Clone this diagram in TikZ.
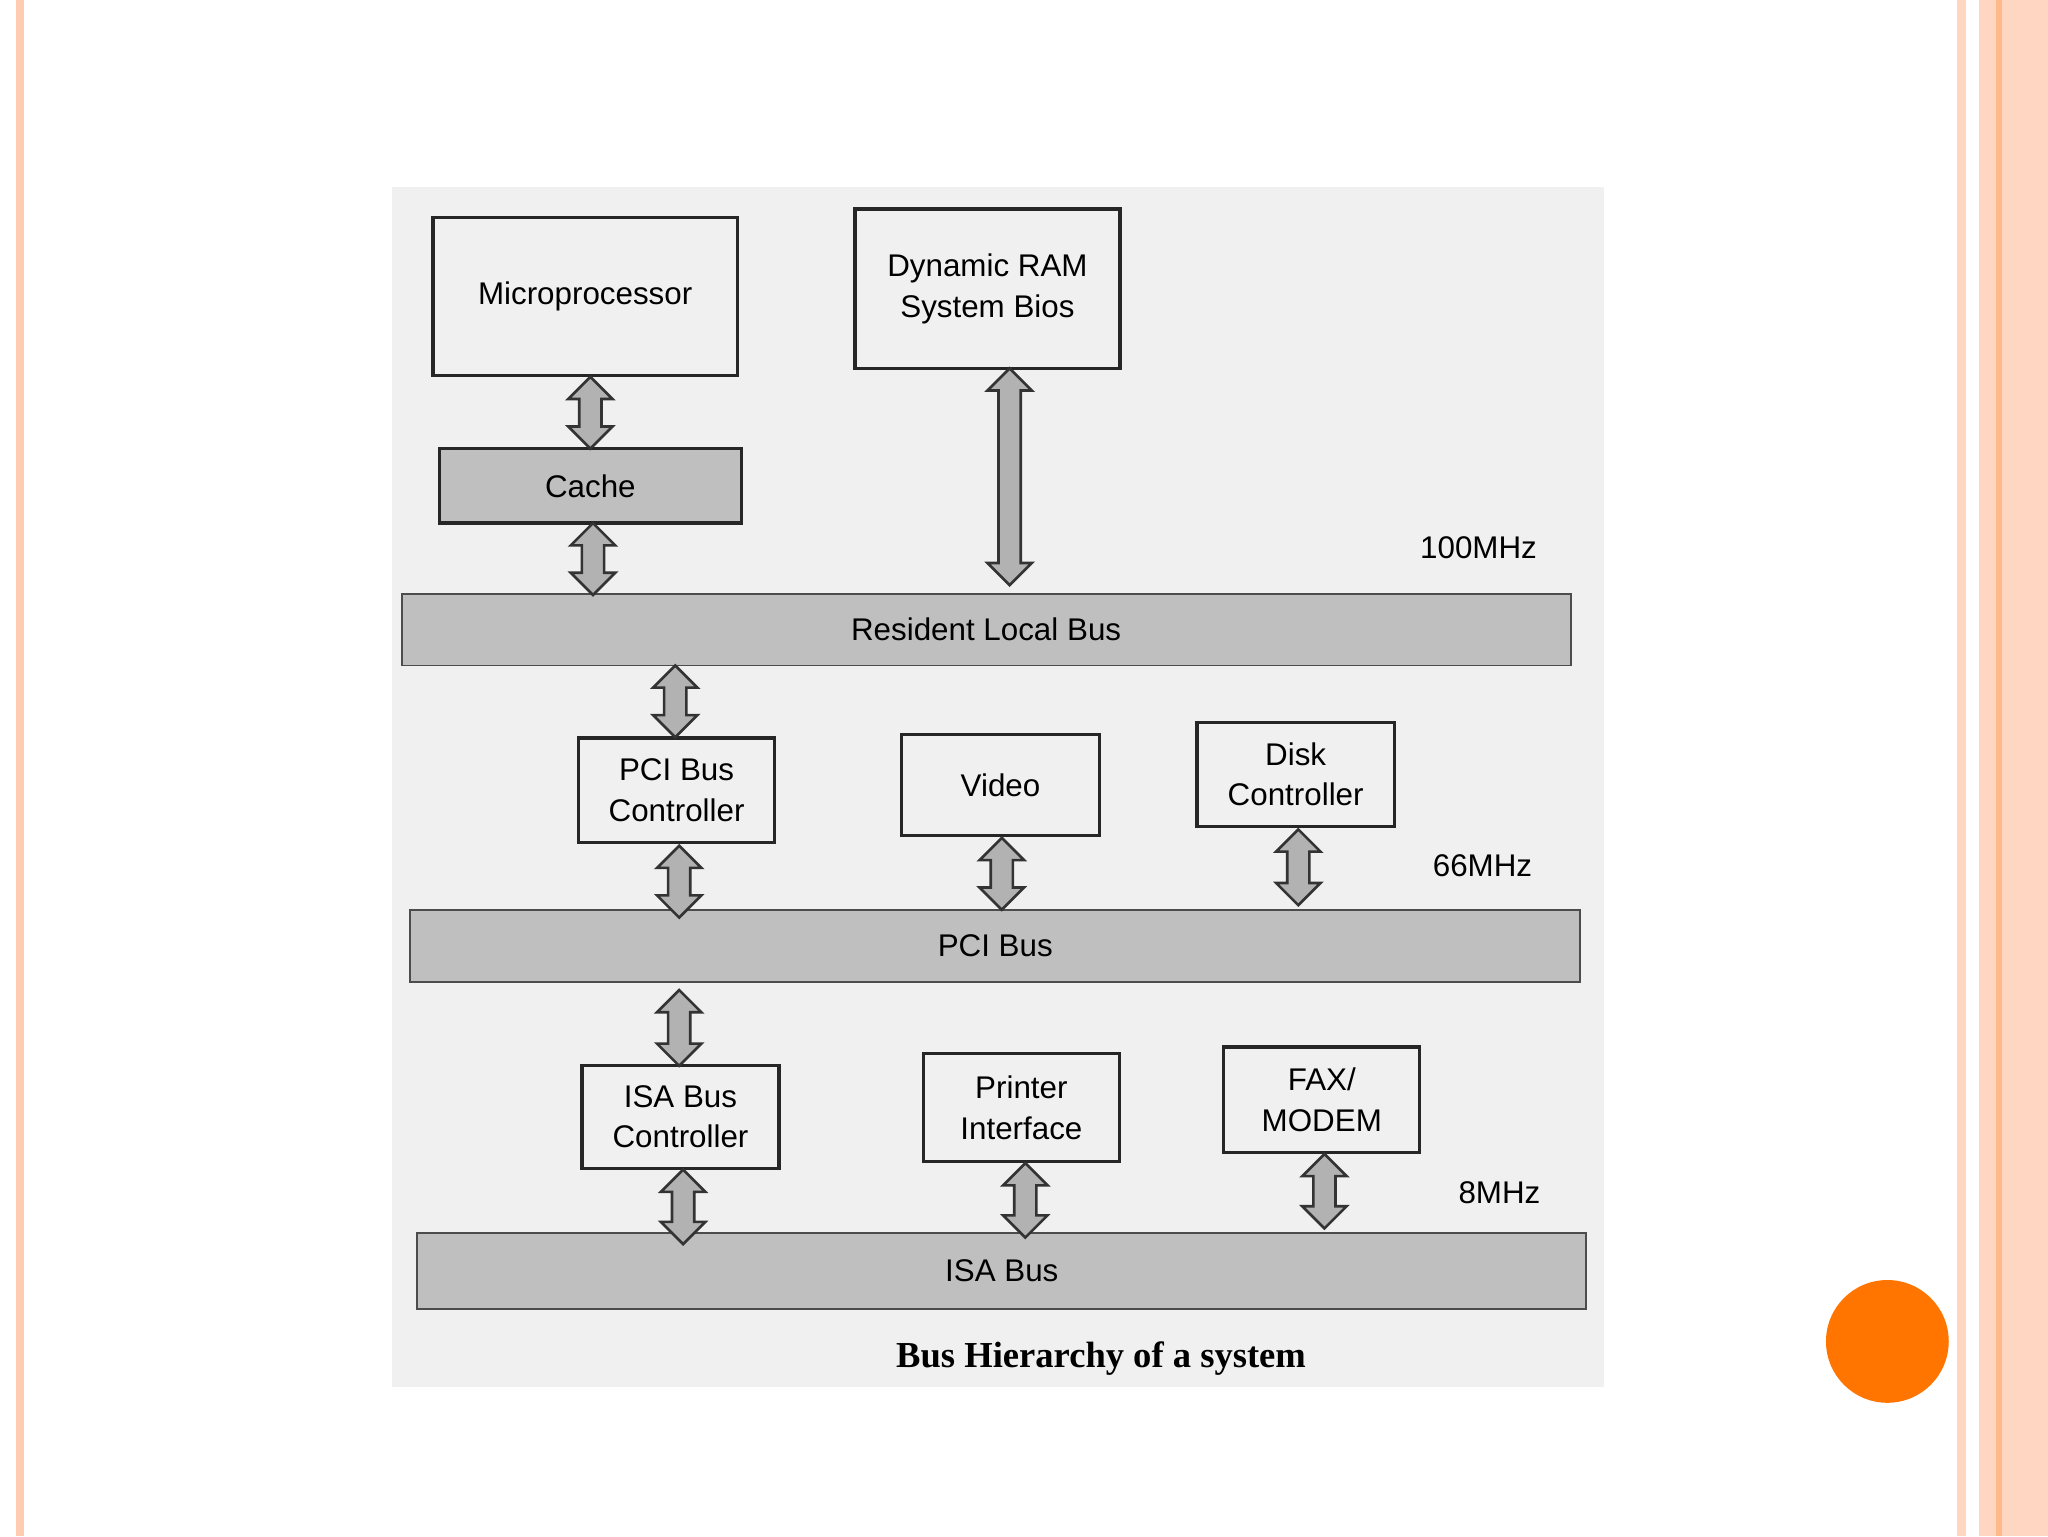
\documentclass[tikz,border=0pt]{standalone}
\usepackage{fontspec}
\setmainfont{Liberation Sans}
\newfontfamily\capfont{Liberation Serif}
\usetikzlibrary{shapes.arrows}
\begin{document}
\begin{tikzpicture}[x=1pt,y=-1pt,
 box/.style={draw=black!85,line width=2.5pt,inner sep=0pt,align=center,font=\fontsize{24}{31}\selectfont},
 bus/.style={draw=black!70,line width=1.5pt,fill=black!25,inner sep=0pt,font=\fontsize{24}{30}\selectfont},
 dbl/.style={double arrow,draw=black!80,line width=2pt,fill=black!30,rotate=90,minimum width=34pt,double arrow head extend=6pt,inner sep=5pt,double arrow head indent=0pt},
 lab/.style={font=\fontsize{24}{30}\selectfont}]
\useasboundingbox (0,0) rectangle (1568,1176);
\fill[white] (0,0) rectangle (1568,1176);
\fill[orange!35!pink!60] (12,0) rectangle (18,1176);
\fill[orange!30!pink!50] (1498,0) rectangle (1505,1176);
\fill[orange!30!pink!50] (1515,0) rectangle (1568,1176);
\fill[orange!55!pink!70] (1528,0) rectangle (1533,1176);
\fill[black!6] (300,143) rectangle (1228,1062);
\fill[orange!80!red!90!yellow] (1445,1027) circle (47);
% boxes
\node[box,minimum width=233pt,minimum height=121pt] (mp) at (448,227) {Microprocessor};
\node[box,minimum width=203pt,minimum height=122pt] (ram) at (756,221) {Dynamic RAM\\System Bios};
\node[box,fill=black!25,minimum width=231pt,minimum height=57pt] (cache) at (452,372) {Cache};
\node[bus,minimum width=895pt,minimum height=55pt] (rlb) at (755,482) {Resident Local Bus};
\node[lab] (f1) at (1132,419) {100MHz};
\node[box,minimum width=150pt,minimum height=80pt] (pcic) at (518,605) {PCI Bus\\Controller};
\node[box,minimum width=152pt,minimum height=77pt] (vid) at (766,601) {Video};
\node[box,minimum width=151pt,minimum height=80pt] (disk) at (992,593) {Disk\\Controller};
\node[lab] (f2) at (1135,663) {66MHz};
\node[bus,minimum width=896pt,minimum height=55pt] (pci) at (762,724) {PCI Bus};
\node[box,minimum width=151pt,minimum height=79pt] (isac) at (521,855) {ISA Bus\\Controller};
\node[box,minimum width=150pt,minimum height=83pt] (prn) at (782,848) {Printer\\Interface};
\node[box,minimum width=150pt,minimum height=81pt] (fax) at (1012,842) {FAX/\\MODEM};
\node[lab] (f3) at (1148,913) {8MHz};
\node[bus,minimum width=895pt,minimum height=58pt] (isa) at (767,973) {ISA Bus};
\node[font=\capfont\bfseries\fontsize{28}{34}\selectfont] (cap) at (843,1040) {Bus Hierarchy of a system};
% arrows
\node[dbl,minimum height=55pt] (a1) at (452,316) {};
\node[dbl,minimum height=55pt] (a2) at (454,428) {};
\node[dbl,minimum height=166pt] (a3) at (773,365) {};
\node[dbl,minimum height=55pt] (a4) at (517,537) {};
\node[dbl,minimum height=55pt] (a5) at (520,675) {};
\node[dbl,minimum height=55pt] (a6) at (767,669) {};
\node[dbl,minimum height=58pt] (a7) at (994,664) {};
\node[dbl,minimum height=58pt] (a8) at (520,787) {};
\node[dbl,minimum height=57pt] (a9) at (523,924) {};
\node[dbl,minimum height=57pt] (a10) at (785,919) {};
\node[dbl,minimum height=57pt] (a11) at (1014,912) {};
\end{tikzpicture}
\end{document}
